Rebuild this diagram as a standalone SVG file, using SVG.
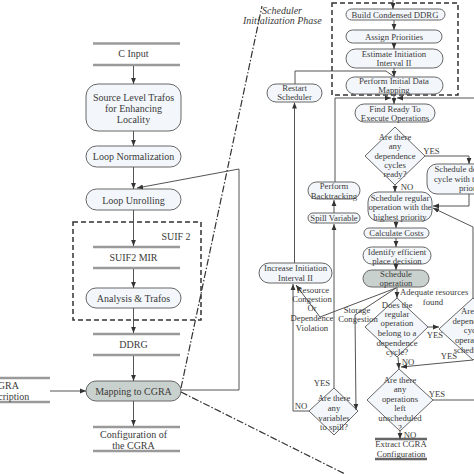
<svg xmlns="http://www.w3.org/2000/svg" width="474" height="474" viewBox="0 0 474 474">
<defs>
<marker id="ah" viewBox="0 0 10 10" refX="10" refY="5" markerWidth="6" markerHeight="6" orient="auto" markerUnits="userSpaceOnUse"><path d="M0,1 L10,5 L0,9 z" fill="#333"/></marker>
<style>
text{font-family:"Liberation Serif","Times New Roman",serif;fill:#3a3a3a;text-anchor:middle}
.t{font-size:10px}
.r{font-size:8.7px}
.it{font-size:10px;font-style:italic;text-anchor:start}
.box{fill:#f3f7fb;stroke:#666;stroke-width:1}
.gbox{fill:#c9d1ce;stroke:#666;stroke-width:1}
.dl{stroke:#9a9a9a;stroke-width:2.5}
.xl{stroke:#666;stroke-width:2.5}
.c{fill:none;stroke:#555;stroke-width:1}
.a{marker-end:url(#ah)}
.dash{fill:none;stroke:#333;stroke-width:1.5;stroke-dasharray:5,3}
.dd{fill:none;stroke:#333;stroke-width:1.2;stroke-dasharray:7,2,1.5,2}
</style>
</defs>
<rect width="474" height="474" fill="#fff"/>

<!-- left column -->
<g id="cinput"><line class="dl" x1="93" y1="43.5" x2="180" y2="43.5"/><line class="dl" x1="93" y1="65" x2="180" y2="65"/><text class="t" x="133.5" y="57">C Input</text></g>
<g id="source"><rect class="box" x="86" y="84" width="95" height="47" rx="12"/><text class="t" x="133.5" y="100.5">Source Level Trafos</text><text class="t" x="133.5" y="111.5">for Enhancing</text><text class="t" x="133.5" y="123">Locality</text></g>
<g id="loopnorm"><rect class="box" x="86" y="146" width="95" height="21" rx="10.5"/><text class="t" x="133.5" y="160">Loop Normalization</text></g>
<g id="loopunroll"><rect class="box" x="86" y="189" width="95" height="21" rx="10.5"/><text class="t" x="133.5" y="203.5">Loop Unrolling</text></g>
<g id="suif2"><rect class="dash" x="73" y="222" width="128" height="98"/><text class="t" x="176" y="239.5">SUIF 2</text></g>
<g id="suifmir"><line class="dl" x1="93" y1="247" x2="180" y2="247"/><line class="dl" x1="93" y1="268" x2="180" y2="268"/><text class="t" x="133.5" y="261">SUIF2 MIR</text></g>
<g id="analysis"><rect class="box" x="86" y="288" width="95" height="20" rx="10"/><text class="t" x="133.5" y="301.5">Analysis &amp; Trafos</text></g>
<g id="ddrg"><line class="dl" x1="93" y1="334" x2="180" y2="334"/><line class="dl" x1="93" y1="355" x2="180" y2="355"/><text class="t" x="133.5" y="348">DDRG</text></g>
<g id="mapping"><rect class="gbox" x="86" y="381" width="95" height="20" rx="10"/><text class="t" x="133.5" y="394.5">Mapping to CGRA</text></g>
<g id="config"><line class="dl" x1="93" y1="427" x2="180" y2="427"/><line class="dl" x1="93" y1="451" x2="180" y2="451"/><text class="t" x="133.5" y="437.5">Configuration of</text><text class="t" x="133.5" y="448.5">the CGRA</text></g>
<g id="cgradesc"><line class="dl" x1="0" y1="378" x2="50" y2="378"/><line class="dl" x1="0" y1="402" x2="50" y2="402"/><text class="t" x="5" y="389">CGRA</text><text class="t" x="6" y="400">Description</text></g>

<!-- right side -->
<g id="phase"><rect class="dash" x="332" y="3" width="126" height="92"/><text class="it" x="262" y="14">Scheduler</text><text class="it" x="243" y="24">Initialization Phase</text></g>
<g id="build"><rect class="box" x="346" y="9" width="99" height="11" rx="5.5"/><text class="r" x="395" y="17.8">Build Condensed DDRG</text></g>
<g id="assign"><rect class="box" x="346" y="30" width="96" height="13" rx="6.5"/><text class="r" x="394" y="39.8">Assign Priorities</text></g>
<g id="estimate"><rect class="box" x="346" y="49" width="97" height="19" rx="9.5"/><text class="r" x="394" y="57">Estimate Initiation</text><text class="r" x="394" y="66">Interval II</text></g>
<g id="initmap"><rect class="box" x="346" y="77" width="97" height="17" rx="8.5"/><text class="r" x="394" y="84">Perform Initial Data</text><text class="r" x="394" y="93">Mapping</text></g>
<g id="restart"><rect class="box" x="267" y="84" width="55" height="18" rx="9"/><text class="r" x="294.5" y="91">Restart</text><text class="r" x="294.5" y="100">Scheduler</text></g>
<g id="findready"><rect class="box" x="355" y="104" width="80" height="18" rx="9"/><text class="r" x="395" y="111.5">Find Ready To</text><text class="r" x="395" y="120.5">Execute Operations</text></g>
<g id="dcycles"><polygon class="box" points="395,127 425,156 395,185 365,156"/><text class="r" x="395" y="140">Are there</text><text class="r" x="395" y="149">any</text><text class="r" x="395" y="158.5">dependence</text><text class="r" x="395" y="168">cycles</text><text class="r" x="395" y="177">ready?</text></g>
<g id="scheddep"><rect class="box" x="427" y="164" width="100" height="30" rx="10"/><text class="r" x="472" y="172">Schedule dependence</text><text class="r" x="472" y="181.5">cycle with the highest</text><text class="r" x="472" y="191">priority</text></g>
<g id="schedreg"><rect class="box" x="368" y="192" width="64" height="29" rx="10"/><text class="r" x="400" y="201">Schedule regular</text><text class="r" x="400" y="210">operation with the</text><text class="r" x="400" y="219.5">highest priority</text></g>
<g id="calc"><rect class="box" x="364" y="228" width="65" height="10" rx="5"/><text class="r" x="396.5" y="236">Calculate Costs</text></g>
<g id="identify"><rect class="box" x="363" y="247" width="68" height="17" rx="8.5"/><text class="r" x="397" y="255">Identify efficient</text><text class="r" x="397" y="264">place decision</text></g>
<g id="schedop"><rect class="gbox" x="363" y="270" width="66" height="17" rx="8.5"/><text class="r" x="396" y="277">Schedule</text><text class="r" x="396" y="286">operation</text></g>
<g id="belong"><polygon class="box" points="397,298 428,327 397,357 365,327"/><text class="r" x="397" y="308">Does the</text><text class="r" x="397" y="317">regular</text><text class="r" x="397" y="326">operation</text><text class="r" x="397" y="336">belong to a</text><text class="r" x="397" y="346">dependence</text><text class="r" x="397" y="355">cycle?</text></g>
<g id="allsched"><polygon class="box" points="473,298 507,329 473,360 439,329"/><text class="r" x="473" y="314">Are all</text><text class="r" x="473" y="324">dependence</text><text class="r" x="473" y="333">cycle</text><text class="r" x="473" y="343">operations</text><text class="r" x="473" y="353">scheduled?</text></g>
<g id="leftops"><polygon class="box" points="399,369 433,400 400,431 367,400"/><text class="r" x="400" y="383">Are there</text><text class="r" x="400" y="392">any</text><text class="r" x="400" y="401.5">operations</text><text class="r" x="400" y="411">left</text><text class="r" x="400" y="420.5">unscheduled</text><text class="r" x="400" y="431">?</text></g>
<g id="extract"><line class="xl" x1="375" y1="439" x2="427" y2="439"/><line class="xl" x1="375" y1="459" x2="427" y2="459"/><text class="r" x="401" y="447">Extract CGRA</text><text class="r" x="401" y="456.5">Configuration</text></g>
<g id="backtrack"><rect class="box" x="308" y="182" width="52" height="17" rx="8.5"/><text class="r" x="334" y="189">Perform</text><text class="r" x="334" y="198.5">Backtracking</text></g>
<g id="spillvar"><rect class="box" x="308" y="213" width="52" height="10" rx="5"/><text class="r" x="334" y="221">Spill Variable</text></g>
<g id="spillq"><polygon class="box" points="334,388 358,411 334,435 309,411"/><text class="r" x="334" y="401">Are there</text><text class="r" x="334" y="411">any</text><text class="r" x="334" y="421">variables</text><text class="r" x="334" y="430">to spill?</text></g>
<g id="increase"><rect class="box" x="259" y="263" width="73" height="20" rx="10"/><text class="r" x="295.5" y="271">Increase Initiation</text><text class="r" x="295.5" y="281">Interval II</text></g>

<!-- connectors -->
<g id="connectors">
<line class="c a" x1="133.5" y1="66" x2="133.5" y2="84"/>
<line class="c a" x1="133.5" y1="131" x2="133.5" y2="146"/>
<line class="c a" x1="133.5" y1="167" x2="133.5" y2="189"/>
<line class="c a" x1="133.5" y1="210" x2="133.5" y2="246"/>
<line class="c a" x1="133.5" y1="269" x2="133.5" y2="288"/>
<line class="c a" x1="133.5" y1="308" x2="133.5" y2="333"/>
<line class="c a" x1="133.5" y1="356" x2="133.5" y2="381"/>
<line class="c a" x1="133.5" y1="401" x2="133.5" y2="426"/>
<line class="c a" x1="50" y1="391" x2="86" y2="391"/>
<polyline class="c a" points="181,390 239,390 239,169 137,188"/>
<line class="dd" x1="181" y1="388" x2="262" y2="6"/>
<line class="dd" x1="181" y1="392" x2="345" y2="474"/>

<line class="c a" x1="393" y1="0" x2="393" y2="9"/>
<line class="c a" x1="394" y1="20" x2="394" y2="30"/>
<line class="c a" x1="394" y1="43" x2="394" y2="49"/>
<line class="c a" x1="394" y1="68" x2="394" y2="77"/>
<polyline class="c" points="295,84 295,71 386,71 393,76"/>
<line class="c a" x1="394" y1="94" x2="394" y2="104"/>
<polyline class="c a" points="335,182 335,98 391,98"/>
<line class="c a" x1="474" y1="98" x2="397" y2="98"/>
<line class="c a" x1="395" y1="185" x2="395" y2="192"/>
<polyline class="c a" points="425,156 469,156 469,164"/>
<polyline class="c a" points="469,194 469,206 433,206"/>
<polyline class="c a" points="473,298 473,227 433,208"/>
<line class="c a" x1="396" y1="221" x2="396" y2="228"/>
<line class="c a" x1="396" y1="238" x2="396" y2="247"/>
<line class="c a" x1="396" y1="264" x2="396" y2="270"/>
<line class="c a" x1="397" y1="287" x2="397" y2="298"/>
<line class="c a" x1="428" y1="327" x2="439" y2="327"/>
<line class="c a" x1="398" y1="357" x2="399" y2="369"/>
<line class="c a" x1="473" y1="360" x2="401" y2="367"/>
<line class="c" x1="433" y1="400" x2="474" y2="400"/>
<line class="c a" x1="400" y1="431" x2="400" y2="439"/>
<polyline class="c a" points="396,288 355,315 356,410"/>
<polyline class="c a" points="396,288 320,317 296,285"/>
<polyline class="c a" points="309,411 293,411 293,284"/>
<line class="c a" x1="334" y1="388" x2="334" y2="224"/>
<line class="c a" x1="334" y1="213" x2="334" y2="200"/>
<line class="c a" x1="294.5" y1="263" x2="294.5" y2="102.5"/>

<text class="r" x="431.5" y="154">YES</text>
<text class="r" x="407" y="190">NO</text>
<text class="r" x="400" y="295" style="text-anchor:start">Adequate resources</text>
<text class="r" x="433" y="305">found</text>
<text class="r" x="435" y="338">YES</text>
<text class="r" x="449" y="359">YES</text>
<text class="r" x="408" y="365">NO</text>
<text class="r" x="437" y="397">YES</text>
<text class="r" x="410" y="438">NO</text>
<text class="r" x="322" y="386">YES</text>
<text class="r" x="301" y="409">NO</text>
<text class="r" x="357" y="313">Storage</text>
<text class="r" x="358" y="322">Congestion</text>
<text class="r" x="313" y="293">Resource</text>
<text class="r" x="312" y="302">Congestion</text>
<text class="r" x="312" y="311">Or</text>
<text class="r" x="312" y="321">Dependence</text>
<text class="r" x="312" y="331">Violation</text>
</g>
</svg>
